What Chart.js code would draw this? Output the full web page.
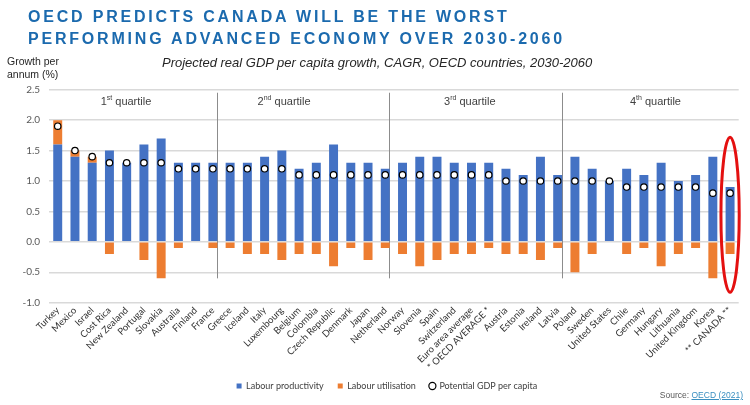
<!DOCTYPE html>
<html>
<head>
<meta charset="utf-8">
<script src="https://cdn.jsdelivr.net/npm/chart.js@4.4.1/dist/chart.umd.min.js"></script>
<style>
  body { margin: 0; background: #fff; }
  #wrap { position: relative; width: 750px; height: 405px; overflow: hidden; font-family: "Liberation Sans", Arial, sans-serif; }
  #chart { position: absolute; left: 0; top: 0; }
  .title { position: absolute; left: 28px; top: 6px; font-size: 16px; line-height: 22px; font-weight: bold; letter-spacing: 2.8px; color: #1b6aae; white-space: nowrap; }
  .subtitle { position: absolute; left: 162px; top: 55px; font-size: 13px; line-height: 15px; font-style: italic; color: #262626; white-space: nowrap; }
  .yunit { position: absolute; left: 7px; top: 55px; font-size: 10.5px; line-height: 13.3px; color: #262626; }
  .source { position: absolute; right: 7px; top: 390px; font-size: 8.5px; color: #595959; }
  .source a { color: #3a8fc0; text-decoration: underline; }
</style>
</head>
<body>
<div id="wrap">
  <canvas id="chart" width="750" height="405"></canvas>
  <div class="title">OECD PREDICTS CANADA WILL BE THE WORST<br>PERFORMING ADVANCED ECONOMY OVER 2030-2060</div>
  <div class="subtitle">Projected real GDP per capita growth, CAGR, OECD countries, 2030-2060</div>
  <div class="yunit">Growth per<br>annum (%)</div>
  <div class="source">Source: <a href="#">OECD (2021)</a></div>
</div>
<script>
// données
const countries = ['Turkey', 'Mexico', 'Israel', 'Cost Rica', 'New Zealand', 'Portugal', 'Slovakia', 'Australia', 'Finland', 'France',
  'Greece', 'Iceland', 'Italy', 'Luxembourg', 'Belgium', 'Colombia', 'Czech Republic', 'Denmark', 'Japan', 'Netherland',
  'Norway', 'Slovenia', 'Spain', 'Switzerland', 'Euro area average', '* OECD AVERAGE *', 'Austria', 'Estonia', 'Ireland', 'Latvia',
  'Poland', 'Sweden', 'United States', 'Chile', 'Germany', 'Hungary', 'Lithuania', 'United Kingdom', 'Korea', '** CANADA **'];

const labourProductivity = [1.6, 1.4, 1.3, 1.5, 1.3, 1.6, 1.7, 1.3, 1.3, 1.3,
  1.3, 1.3, 1.4, 1.5, 1.2, 1.3, 1.6, 1.3, 1.3, 1.2,
  1.3, 1.4, 1.4, 1.3, 1.3, 1.3, 1.2, 1.1, 1.4, 1.1,
  1.4, 1.2, 1.0, 1.2, 1.1, 1.3, 1.0, 1.1, 1.4, 0.9];

const labourUtilisation = [0.4, 0.1, 0.1, -0.2, 0, -0.3, -0.6, -0.1, 0, -0.1,
  -0.1, -0.2, -0.2, -0.3, -0.2, -0.2, -0.4, -0.1, -0.3, -0.1,
  -0.2, -0.4, -0.3, -0.2, -0.2, -0.1, -0.2, -0.2, -0.3, -0.1,
  -0.5, -0.2, 0, -0.2, -0.1, -0.4, -0.2, -0.1, -0.6, -0.2];

const potentialGdp = [1.9, 1.5, 1.4, 1.3, 1.3, 1.3, 1.3, 1.2, 1.2, 1.2,
  1.2, 1.2, 1.2, 1.2, 1.1, 1.1, 1.1, 1.1, 1.1, 1.1,
  1.1, 1.1, 1.1, 1.1, 1.1, 1.1, 1.0, 1.0, 1.0, 1.0,
  1.0, 1.0, 1.0, 0.9, 0.9, 0.9, 0.9, 0.9, 0.8, 0.8];

const quartileLabels = [['1', 'st'], ['2', 'nd'], ['3', 'rd'], ['4', 'th']];
const yMin = -1.0;
const yMax = 2.5;
const yStep = 0.5;

// mise en page
const quartileX = [3.96, 13.13, 23.9, 34.67];   // position en index de catégorie
const separatorAfter = [9, 19, 29];
const highlightIndex = 39;

const overlay = {
  id: 'overlay',
  afterLayout(chart) {
    // décale la légende pour la centrer comme dans l'original
    chart.legend.left += 6.5;
    chart.legend.right += 6.5;
  },
  beforeDatasetsDraw(chart) {
    const { ctx, scales: { x, y } } = chart;
    const x0 = x.getPixelForValue(0);
    const step = x.getPixelForValue(1) - x0;
    ctx.save();
    // séparateurs de quartiles
    ctx.strokeStyle = '#8c8c8c';
    ctx.lineWidth = 1;
    separatorAfter.forEach(function(i) {
      const px = Math.round(x.getPixelForValue(i) + 0.24 * step) + 0.5;
      ctx.beginPath();
      ctx.moveTo(px, y.getPixelForValue(2.45));
      ctx.lineTo(px, y.getPixelForValue(-0.6));
      ctx.stroke();
    });
    // libellés des quartiles
    ctx.fillStyle = '#404040';
    ctx.textBaseline = 'middle';
    const cy = y.getPixelForValue(2.3);
    quartileLabels.forEach(function(q, k) {
      const big = '11px "Liberation Sans", Arial, sans-serif';
      const small = '7px "Liberation Sans", Arial, sans-serif';
      ctx.font = big;
      const w1 = ctx.measureText(q[0]).width;
      const w3 = ctx.measureText(' quartile').width;
      ctx.font = small;
      const w2 = ctx.measureText(q[1]).width;
      let px = x0 + quartileX[k] * step - (w1 + w2 + w3) / 2;
      ctx.textAlign = 'left';
      ctx.font = big;
      ctx.fillText(q[0], px, cy);
      ctx.font = small;
      ctx.fillText(q[1], px + w1, cy - 3.5);
      ctx.font = big;
      ctx.fillText(' quartile', px + w1 + w2, cy);
    });
    ctx.restore();
  },
  afterDraw(chart) {
    const { ctx, scales: { x, y } } = chart;
    const step = x.getPixelForValue(1) - x.getPixelForValue(0);
    const top = y.getPixelForValue(1.72);
    const bottom = y.getPixelForValue(-0.83);
    ctx.save();
    ctx.strokeStyle = '#e41010';
    ctx.lineWidth = 3;
    ctx.beginPath();
    ctx.ellipse(x.getPixelForValue(highlightIndex), (top + bottom) / 2, 0.53 * step, (bottom - top) / 2, 0, 0, Math.PI * 2);
    ctx.stroke();
    ctx.restore();
  }
};

const ctx = document.getElementById('chart').getContext('2d');
const chart = new Chart(ctx, {
  type: 'bar',
  data: {
    labels: countries,
    datasets: [{
      label: 'Labour productivity',
      data: labourProductivity,
      backgroundColor: '#4472c4',
      stack: 'gdp',
      order: 1,
      pointStyle: 'rect'
    }, {
      label: 'Labour utilisation',
      data: labourUtilisation,
      backgroundColor: '#ed7d31',
      stack: 'gdp',
      order: 2,
      pointStyle: 'rect'
    }, {
      type: 'line',
      label: 'Potential GDP per capita',
      data: potentialGdp,
      showLine: false,
      stack: 'dots',
      order: 0,
      pointStyle: 'circle',
      pointRadius: 3.2,
      pointHoverRadius: 3.2,
      pointBackgroundColor: '#ffffff',
      pointBorderColor: '#000000',
      pointBorderWidth: 1.2,
      backgroundColor: '#ffffff',
      borderColor: '#000000',
      borderWidth: 1
    }]
  },
  options: {
    responsive: false,
    animation: false,
    categoryPercentage: 0.52,
    barPercentage: 1,
    layout: { padding: { top: 89.7, left: 22, right: 11.3, bottom: 4.5 } },
    plugins: {
      title: { display: false },
      tooltip: { enabled: false },
      legend: {
        position: 'bottom',
        labels: {
          usePointStyle: true,
          boxWidth: 5,
          boxHeight: 5,
          padding: 14,
          color: '#404040',
          font: { family: 'Lato, "Liberation Sans", sans-serif', size: 9 },
          sort: function(a, b) { return a.datasetIndex - b.datasetIndex; }
        }
      }
    },
    scales: {
      x: {
        stacked: true,
        grid: { display: false, drawTicks: false },
        border: { display: false },
        ticks: {
          autoSkip: false,
          maxRotation: 45,
          minRotation: 45,
          padding: 2,
          color: '#333333',
          font: { family: 'Lato, "Liberation Sans", sans-serif', size: 9.5 }
        },
        afterFit: function(scale) { scale.height = 64.8; }
      },
      y: {
        stacked: true,
        min: yMin,
        max: yMax,
        grid: { color: '#d9d9d9', lineWidth: 1.5, drawTicks: false },
        border: { display: false },
        ticks: {
          stepSize: yStep,
          padding: 9,
          color: '#595959',
          font: { family: 'Lato, "Liberation Sans", sans-serif', size: 10 },
          callback: function(v) { return Number(v).toFixed(1); }
        },
        afterFit: function(scale) { scale.width = 27.1; }
      }
    }
  },
  plugins: [overlay]
});
</script>
</body>
</html>
